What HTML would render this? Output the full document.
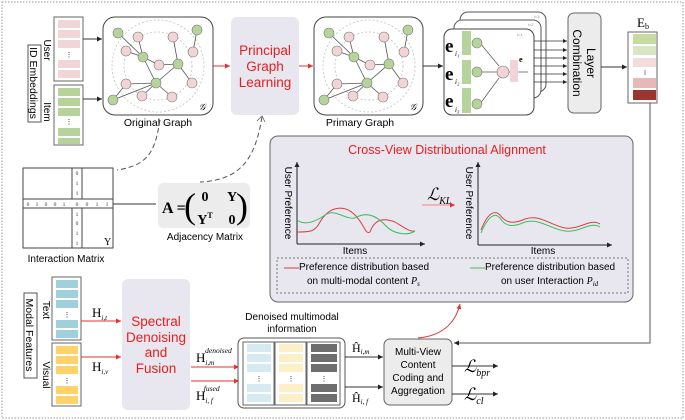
<!DOCTYPE html>
<html><head><meta charset="utf-8"><style>
html,body{margin:0;padding:0;background:#fff}
svg{display:block;font-family:"Liberation Sans",sans-serif}
.s{font-family:"Liberation Serif",serif}
</style></head><body>
<svg width="685" height="420" viewBox="0 0 685 420" xmlns="http://www.w3.org/2000/svg">
<defs>
<marker id="ak" markerWidth="6" markerHeight="6" refX="5" refY="3" orient="auto"><path d="M0,0.5 L5,3 L0,5.5z" fill="#222"/></marker>
<marker id="ar" markerWidth="6" markerHeight="6" refX="5" refY="3" orient="auto"><path d="M0,0.5 L5,3 L0,5.5z" fill="#e53030"/></marker>
<g id="graph">
<circle cx="55" cy="49" r="34" fill="none" stroke="#ccc" stroke-dasharray="2,2"/>
<circle cx="55" cy="49" r="46" fill="none" stroke="#ccc" stroke-dasharray="2,2"/>
<g stroke="#555" stroke-width="0.8">
<line x1="15" y1="16" x2="40" y2="40"/><line x1="35" y1="20" x2="40" y2="40"/><line x1="23" y1="34" x2="40" y2="40"/>
<line x1="40" y1="40" x2="56" y2="48"/><line x1="40" y1="40" x2="53" y2="66"/><line x1="56" y1="48" x2="75" y2="47"/>
<line x1="75" y1="47" x2="70" y2="20"/><line x1="75" y1="47" x2="89" y2="66"/><line x1="90" y1="35" x2="94" y2="13"/>
<line x1="53" y1="66" x2="75" y2="47"/><line x1="53" y1="66" x2="23" y2="67"/><line x1="53" y1="66" x2="39" y2="79"/>
<line x1="53" y1="66" x2="69" y2="80"/><line x1="10" y1="83" x2="53" y2="66"/><line x1="10" y1="83" x2="23" y2="67"/>
</g>
<g stroke="#777" stroke-width="0.6">
<circle cx="15" cy="16" r="5" fill="#b5d39a"/><circle cx="23" cy="34" r="5" fill="#f2d4d4"/>
<circle cx="40" cy="40" r="5" fill="#b5d39a"/><circle cx="56" cy="48" r="5" fill="#f2d4d4"/>
<circle cx="35" cy="20" r="5" fill="#f2d4d4"/><circle cx="75" cy="47" r="5" fill="#b5d39a"/>
<circle cx="70" cy="20" r="5" fill="#f2d4d4"/><circle cx="94" cy="13" r="5" fill="#b5d39a"/>
<circle cx="90" cy="35" r="5" fill="#f2d4d4"/><circle cx="53" cy="66" r="5" fill="#b5d39a"/>
<circle cx="23" cy="67" r="5" fill="#f2d4d4"/><circle cx="39" cy="79" r="5" fill="#f2d4d4"/>
<circle cx="10" cy="83" r="5" fill="#b5d39a"/><circle cx="69" cy="80" r="5" fill="#f2d4d4"/>
<circle cx="89" cy="66" r="5" fill="#f2d4d4"/>
</g>
</g>
</defs>
<rect x="2" y="2" width="681" height="416" fill="none" stroke="#999" stroke-dasharray="1.5,1.5"/>

<!-- ID embeddings -->
<rect x="28" y="45" width="13" height="77" fill="#fff" stroke="#555"/>
<text transform="translate(30,83) rotate(90)" font-size="10.5" text-anchor="middle">ID Embeddings</text>
<text transform="translate(44,50) rotate(90)" font-size="10" text-anchor="middle">User</text>
<text transform="translate(44,112) rotate(90)" font-size="10" text-anchor="middle">Item</text>
<rect x="54" y="17" width="29" height="64" fill="#fff" stroke="#666"/>
<g fill="#f0d6d6"><rect x="58" y="20" width="22" height="8"/><rect x="58" y="30" width="22" height="8"/><rect x="58" y="40" width="22" height="8"/><rect x="58" y="60" width="22" height="8"/><rect x="58" y="70" width="22" height="8"/></g>
<text x="69" y="57" font-size="7" text-anchor="middle">⋮</text>
<rect x="54" y="85" width="29" height="60" fill="#fff" stroke="#666"/>
<g fill="#b5d39a"><rect x="58" y="88" width="22" height="8"/><rect x="58" y="98" width="22" height="8"/><rect x="58" y="108" width="22" height="8"/><rect x="58" y="128" width="22" height="8"/><rect x="58" y="138" width="22" height="6"/></g>
<text x="69" y="124" font-size="7" text-anchor="middle">⋮</text>
<line x1="83" y1="39" x2="102" y2="39" stroke="#333" marker-end="url(#ak)"/>
<line x1="83" y1="99" x2="102" y2="99" stroke="#333" marker-end="url(#ak)"/>

<!-- Original graph -->
<rect x="103" y="17" width="110" height="98" rx="12" fill="#fff" stroke="#444"/>
<use href="#graph" x="103" y="17"/>
<text x="199" y="110" font-size="9" font-style="italic" class="s">𝒢</text>
<text x="158" y="126" font-size="10.5" text-anchor="middle">Original Graph</text>
<line x1="213" y1="66" x2="230" y2="66" stroke="#e53030" marker-end="url(#ar)"/>

<rect x="231" y="17" width="68" height="98" rx="6" fill="#e8e6ee"/>
<text x="265" y="55" font-size="13.5" fill="#e52020" text-anchor="middle">Principal</text>
<text x="265" y="71" font-size="13.5" fill="#e52020" text-anchor="middle">Graph</text>
<text x="265" y="87" font-size="13.5" fill="#e52020" text-anchor="middle">Learning</text>
<line x1="299" y1="66" x2="313" y2="66" stroke="#e53030" marker-end="url(#ar)"/>

<rect x="314" y="17" width="109" height="98" rx="12" fill="#fff" stroke="#444"/>
<use href="#graph" x="314" y="17"/>
<text x="410" y="110" font-size="9" font-style="italic" class="s">𝒢</text>
<text x="360" y="126" font-size="10.5" text-anchor="middle">Primary Graph</text>
<line x1="423" y1="66" x2="443" y2="66" stroke="#333" marker-end="url(#ak)"/>

<!-- layer cards -->
<rect x="460" y="12" width="86" height="80" rx="8" fill="#fff" stroke="#555"/>
<rect x="454" y="20" width="87" height="78" rx="8" fill="#fff" stroke="#555"/>
<rect x="444" y="29" width="90" height="86" rx="8" fill="#fff" stroke="#444"/>
<text x="534" y="18" font-size="4" fill="#888">l=3</text><text x="528" y="26" font-size="4" fill="#888">l=2</text>
<text x="517" y="36" font-size="4" fill="#888">l=1</text>
<g fill="#b5d39a"><rect x="462" y="31" width="9" height="24"/><rect x="462" y="60" width="9" height="24"/><rect x="462" y="88" width="9" height="25"/></g>
<g class="s" font-size="19" font-weight="bold"><text x="445" y="52">e</text><text x="445" y="80">e</text><text x="445" y="107">e</text></g>
<g class="s" font-size="7" font-style="italic"><text x="455" y="56">i₁</text><text x="455" y="84">i₂</text><text x="455" y="112">i₃</text></g>
<g stroke="#555" stroke-width="0.7"><line x1="480" y1="43" x2="499" y2="66"/><line x1="480" y1="72" x2="497" y2="72"/><line x1="480" y1="104" x2="499" y2="78"/><line x1="508" y1="72" x2="528" y2="72"/></g>
<g stroke="#777" stroke-width="0.6"><circle cx="477" cy="43" r="5" fill="#b5d39a"/><circle cx="477" cy="72" r="5" fill="#b5d39a"/><circle cx="477" cy="104" r="5" fill="#b5d39a"/><circle cx="503" cy="72" r="6" fill="#f2d4d4"/></g>
<rect x="510" y="60" width="8" height="22" fill="#f2d4d4"/>
<text x="519" y="62" font-size="8" class="s" font-weight="bold">e</text>
<g stroke="#333" stroke-width="0.8"><line x1="534" y1="41" x2="567" y2="41" marker-end="url(#ak)"/><line x1="534" y1="50" x2="567" y2="50" marker-end="url(#ak)"/><line x1="534" y1="58" x2="567" y2="58" marker-end="url(#ak)"/><line x1="534" y1="66" x2="567" y2="66" marker-end="url(#ak)"/><line x1="534" y1="74" x2="567" y2="74" marker-end="url(#ak)"/><line x1="534" y1="82" x2="567" y2="82" marker-end="url(#ak)"/></g>
<rect x="568" y="13" width="33" height="100" rx="6" fill="#ececec" stroke="#666"/>
<text transform="translate(587,63) rotate(90)" font-size="12" text-anchor="middle">Layer</text>
<text transform="translate(573,63) rotate(90)" font-size="12" text-anchor="middle">Combination</text>
<line x1="601" y1="67" x2="627" y2="67" stroke="#333" marker-end="url(#ak)"/>
<text x="643" y="27" font-size="13" class="s" text-anchor="middle">E<tspan font-size="8" dy="2">b</tspan></text>
<rect x="628" y="32" width="29" height="71" fill="#fff" stroke="#666"/>
<rect x="633" y="34" width="23" height="10" fill="#c5dba0"/><rect x="633" y="46" width="23" height="9" fill="#d8e6c4"/>
<rect x="633" y="58" width="23" height="9" fill="#f2dcdc"/><line x1="645" y1="70" x2="645" y2="75" stroke="#888"/>
<rect x="633" y="78" width="23" height="10" fill="#e6b8b8"/><rect x="633" y="90" width="23" height="10" fill="#9b3530"/>
<path d="M650,103 V343 H454" fill="none" stroke="#555" marker-end="url(#ak)"/>

<!-- dashed curves -->
<path d="M160,120 C155,150 150,165 117,170" fill="none" stroke="#555" stroke-dasharray="5,3"/>
<path d="M262,117 C255,160 240,180 200,182" fill="none" stroke="#555" stroke-dasharray="5,3"/>
<path d="M257,121 L262,116 L265,122" fill="none" stroke="#555" stroke-width="0.7"/>

<!-- Interaction matrix -->
<rect x="23" y="168" width="90" height="80" fill="#fff" stroke="#444"/>
<rect x="72" y="168" width="10" height="80" fill="#fff" stroke="#444"/>
<rect x="23" y="199" width="90" height="9" fill="#fff" stroke="#444"/>
<g font-size="5.5" class="s" text-anchor="middle" fill="#333">
<text x="77" y="175">0</text><text x="77" y="185">1</text><text x="77" y="195">1</text>
<text x="28" y="206">0</text><text x="37" y="206">1</text><text x="46" y="206">0</text><text x="55" y="206">0</text><text x="64" y="206">1</text><text x="77" y="206">0</text><text x="87" y="206">0</text><text x="97" y="206">1</text><text x="107" y="206">1</text>
<text x="77" y="216">1</text><text x="77" y="225">0</text><text x="77" y="235">1</text><text x="77" y="245">1</text></g>
<text x="104" y="245" font-size="10" class="s">Y</text>
<text x="66" y="262" font-size="10" text-anchor="middle">Interaction Matrix</text>
<line x1="113" y1="204" x2="156" y2="204" stroke="#333"/>
<rect x="158" y="183" width="92" height="45" rx="5" fill="#ececec"/>
<text x="162" y="213" font-size="16" class="s" font-weight="bold">A =</text>
<text x="184" y="218" font-size="36" class="s">(</text>
<text x="236" y="218" font-size="36" class="s">)</text>
<text x="205" y="201" font-size="14" class="s" font-weight="bold" text-anchor="middle">0</text>
<text x="232" y="201" font-size="14" class="s" font-weight="bold" text-anchor="middle">Y</text>
<text x="205" y="224" font-size="14" class="s" font-weight="bold" text-anchor="middle">Y<tspan font-size="8" dy="-6">T</tspan></text>
<text x="232" y="224" font-size="14" class="s" font-weight="bold" text-anchor="middle">0</text>
<text x="205" y="240" font-size="10" text-anchor="middle">Adjacency Matrix</text>

<!-- Cross-view -->
<rect x="270" y="136" width="363" height="166" rx="8" fill="#e8e6ee" stroke="#666"/>
<text x="447" y="154" font-size="12.5" fill="#e52020" text-anchor="middle">Cross-View Distributional Alignment</text>
<line x1="297" y1="244" x2="297" y2="162" stroke="#222" marker-end="url(#ak)"/>
<line x1="297" y1="244" x2="425" y2="244" stroke="#222" marker-end="url(#ak)"/>
<text transform="translate(285,203) rotate(90)" font-size="10" text-anchor="middle">User Preference</text>
<text x="355" y="254" font-size="10" text-anchor="middle">Items</text>
<path d="M297,232 C310,232 315,232 320,222 C330,205 345,205 355,215 C365,225 365,235 370,232 C375,218 385,218 395,222 C405,228 410,232 415,231" fill="none" stroke="#d94040" stroke-width="1"/>
<path d="M297,220 C305,226 315,222 325,215 C335,208 345,220 355,218 C365,212 375,214 385,225 C395,236 410,235 415,231" fill="none" stroke="#3cbf5c" stroke-width="1"/>
<text x="427" y="200" font-size="17" class="s" font-style="italic">ℒ<tspan font-size="10" dy="4">KL</tspan></text>
<line x1="422" y1="205" x2="455" y2="205" stroke="#e88" marker-end="url(#ar)"/>
<line x1="478" y1="245" x2="478" y2="162" stroke="#222" marker-end="url(#ak)"/>
<line x1="478" y1="245" x2="612" y2="245" stroke="#222" marker-end="url(#ak)"/>
<text transform="translate(466,203) rotate(90)" font-size="10" text-anchor="middle">User Preference</text>
<text x="543" y="254" font-size="10" text-anchor="middle">Items</text>
<path d="M481,230 C488,212 495,210 500,215 C505,222 512,225 525,219 C540,214 550,225 565,228 C580,230 590,218 600,224" fill="none" stroke="#d94040"/>
<path d="M481,233 C488,216 495,212 500,218 C505,226 512,228 525,222 C540,218 550,229 565,231 C580,233 590,221 600,227" fill="none" stroke="#3cbf5c"/>
<rect x="277" y="258" width="351" height="35" fill="none" stroke="#777" stroke-dasharray="2,2"/>
<line x1="284" y1="268" x2="299" y2="268" stroke="#d94040"/>
<text x="299" y="270" font-size="10">Preference distribution based</text>
<text x="307" y="284" font-size="10">on multi-modal content <tspan class="s" font-style="italic">P<tspan font-size="7" dy="2">s</tspan></tspan></text>
<line x1="470" y1="268" x2="485" y2="268" stroke="#3cbf5c"/>
<text x="485" y="270" font-size="10">Preference distribution based</text>
<text x="501" y="284" font-size="10">on user Interaction <tspan class="s" font-style="italic">P<tspan font-size="7" dy="2">id</tspan></tspan></text>

<!-- modal features -->
<rect x="24" y="293" width="13" height="85" fill="#fff" stroke="#555"/>
<text transform="translate(26,335) rotate(90)" font-size="10.5" text-anchor="middle">Modal Features</text>
<text transform="translate(43,310) rotate(90)" font-size="10" text-anchor="middle">Text</text>
<text transform="translate(43,375) rotate(90)" font-size="10" text-anchor="middle">Visual</text>
<rect x="52" y="277" width="29" height="63" fill="#fff" stroke="#666"/>
<g fill="#9fd0dc"><rect x="56" y="280" width="22" height="8"/><rect x="56" y="290" width="22" height="8"/><rect x="56" y="300" width="22" height="8"/><rect x="56" y="320" width="22" height="8"/><rect x="56" y="330" width="22" height="8"/></g>
<text x="67" y="317" font-size="7" text-anchor="middle">⋮</text>
<rect x="52" y="343" width="29" height="63" fill="#fff" stroke="#666"/>
<g fill="#fdd36a"><rect x="56" y="346" width="22" height="8"/><rect x="56" y="356" width="22" height="8"/><rect x="56" y="366" width="22" height="8"/><rect x="56" y="386" width="22" height="8"/><rect x="56" y="396" width="22" height="8"/></g>
<text x="67" y="383" font-size="7" text-anchor="middle">⋮</text>
<line x1="81" y1="321" x2="121" y2="321" stroke="#e53030" marker-end="url(#ar)"/>
<line x1="81" y1="357" x2="121" y2="357" stroke="#e53030" marker-end="url(#ar)"/>
<text x="92" y="317" font-size="13" class="s">H<tspan font-size="7" font-style="italic" dy="3">i,t</tspan></text>
<text x="92" y="371" font-size="13" class="s">H<tspan font-size="7" font-style="italic" dy="3">i,v</tspan></text>
<rect x="122" y="279" width="68" height="131" rx="6" fill="#e8e6ee"/>
<text x="156" y="326" font-size="13.5" fill="#e52020" text-anchor="middle">Spectral</text>
<text x="156" y="342" font-size="13.5" fill="#e52020" text-anchor="middle">Denoising</text>
<text x="156" y="357" font-size="13.5" fill="#e52020" text-anchor="middle">and</text>
<text x="156" y="373" font-size="13.5" fill="#e52020" text-anchor="middle">Fusion</text>
<line x1="191" y1="367" x2="239" y2="367" stroke="#e53030" marker-end="url(#ar)"/>
<line x1="191" y1="381" x2="239" y2="381" stroke="#e53030" marker-end="url(#ar)"/>
<text x="196" y="362" font-size="13" class="s">H<tspan font-size="7" font-style="italic" dy="3">i,m</tspan><tspan font-size="7.5" font-style="italic" dx="-9" dy="-12">denoised</tspan></text>
<text x="196" y="400" font-size="13" class="s">H<tspan font-size="7" font-style="italic" dy="3">i, f</tspan><tspan font-size="7.5" font-style="italic" dx="-9" dy="-12">fused</tspan></text>
<text x="292" y="320" font-size="10" text-anchor="middle">Denoised multimodal</text>
<text x="292" y="332" font-size="10" text-anchor="middle">information</text>
<rect x="238" y="338" width="107" height="70" rx="6" fill="#fff" stroke="#555"/>
<rect x="243" y="342" width="31" height="63" fill="#fff" stroke="#666"/>
<rect x="275" y="342" width="31" height="63" fill="#fff" stroke="#666"/>
<rect x="307" y="342" width="33" height="63" fill="#fff" stroke="#666"/>
<g fill="#d6eaf2"><rect x="247" y="344" width="24" height="8"/><rect x="247" y="354" width="24" height="8"/><rect x="247" y="364" width="24" height="8"/><rect x="247" y="384" width="24" height="8"/><rect x="247" y="394" width="24" height="8"/></g>
<g fill="#fdefc8"><rect x="279" y="344" width="24" height="8"/><rect x="279" y="354" width="24" height="8"/><rect x="279" y="364" width="24" height="8"/><rect x="279" y="384" width="24" height="8"/><rect x="279" y="394" width="24" height="8"/></g>
<g fill="#6e6e6e"><rect x="311" y="344" width="26" height="8"/><rect x="311" y="354" width="26" height="8"/><rect x="311" y="364" width="26" height="8"/><rect x="311" y="384" width="26" height="8"/><rect x="311" y="394" width="26" height="8"/></g>
<g font-size="7" text-anchor="middle"><text x="259" y="381">⋮</text><text x="291" y="381">⋮</text><text x="324" y="381">⋮</text></g>
<line x1="345" y1="357" x2="383" y2="357" stroke="#333" marker-end="url(#ak)"/>
<line x1="345" y1="387" x2="383" y2="387" stroke="#333" marker-end="url(#ak)"/>
<text x="352" y="352" font-size="12" class="s">Ĥ<tspan font-size="7" font-style="italic" dy="2">i,m</tspan></text>
<text x="352" y="402" font-size="12" class="s">Ĥ<tspan font-size="7" font-style="italic" dy="2">i, f</tspan></text>
<rect x="384" y="339" width="68" height="66" rx="6" fill="#ececec" stroke="#666"/>
<g font-size="10" text-anchor="middle"><text x="418" y="355">Multi-View</text><text x="418" y="368">Content</text><text x="418" y="381">Coding and</text><text x="418" y="394">Aggregation</text></g>
<path d="M418,338 C440,336 455,325 460,304" fill="none" stroke="#e53030" marker-end="url(#ar)"/>
<line x1="452" y1="366" x2="498" y2="366" stroke="#333" marker-end="url(#ak)"/>
<line x1="452" y1="394" x2="498" y2="394" stroke="#333" marker-end="url(#ak)"/>
<text x="464" y="372" font-size="17" class="s" font-style="italic">ℒ<tspan font-size="10" dy="4">bpr</tspan></text>
<text x="464" y="400" font-size="17" class="s" font-style="italic">ℒ<tspan font-size="10" dy="4">cl</tspan></text>
</svg>
</body></html>
